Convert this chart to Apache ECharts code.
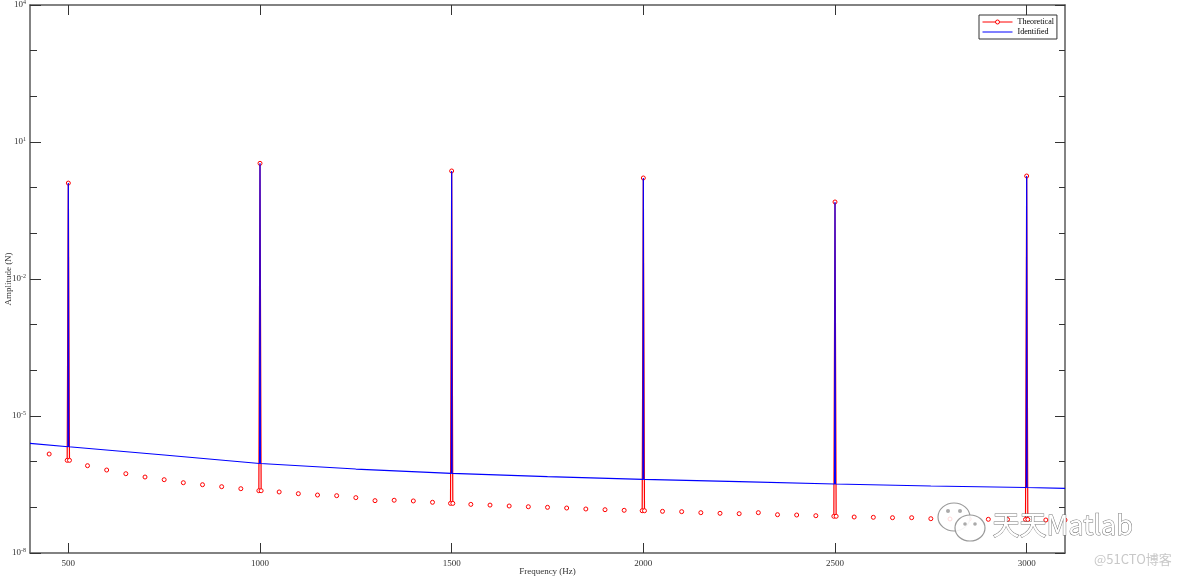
<!DOCTYPE html>
<html><head><meta charset="utf-8">
<script src="https://cdn.jsdelivr.net/npm/echarts@6/dist/echarts.min.js"></script>
<style>html,body{margin:0;padding:0;background:#fff}#c{width:1184px;height:578px}</style>
</head><body><div id="c"></div>
<script>
// ---- data ----
const xTickValues = [500, 1000, 1500, 2000, 2500, 3000];
const peakFreq = [500, 1000, 1500, 2000, 2500, 3000];
const peakAmp = [1.26, 3.41, 2.32, 1.63, 0.486, 1.8];
// theoretical floor at the peak frequencies
const theoPeakBase = [1.07e-6, 2.31e-7, 1.22e-7, 8.43e-8, 6.37e-8, 5.42e-8];
// theoretical floor samples (every 50 Hz, excluding the peaks)
const theoFreq = [450, 550, 600, 650, 700, 750, 800, 850, 900, 950,
  1050, 1100, 1150, 1200, 1250, 1300, 1350, 1400, 1450,
  1550, 1600, 1650, 1700, 1750, 1800, 1850, 1900, 1950,
  2050, 2100, 2150, 2200, 2250, 2300, 2350, 2400, 2450,
  2550, 2600, 2650, 2700, 2750, 2800, 2850, 2900, 2950,
  3050, 3100];
const theoBase = [1.47e-6, 8.17e-7, 6.56e-7, 5.45e-7, 4.61e-7, 4.03e-7, 3.46e-7, 3.13e-7, 2.83e-7, 2.56e-7,
  2.17e-7, 1.99e-7, 1.86e-7, 1.80e-7, 1.63e-7, 1.40e-7, 1.43e-7, 1.38e-7, 1.29e-7,
  1.16e-7, 1.12e-7, 1.07e-7, 1.03e-7, 1.00e-7, 9.66e-8, 9.20e-8, 8.87e-8, 8.61e-8,
  8.18e-8, 8.04e-8, 7.64e-8, 7.40e-8, 7.26e-8, 7.64e-8, 6.90e-8, 6.79e-8, 6.56e-8,
  6.14e-8, 6.05e-8, 5.93e-8, 5.93e-8, 5.64e-8, 5.56e-8, 5.56e-8, 5.47e-8, 5.42e-8,
  5.28e-8, 5.28e-8];
// identified floor curve
const identFreq = [400, 500, 750, 1000, 1250, 1500, 1750, 2000, 2250, 2500, 2750, 3000, 3100];
const identBase = [2.52e-6, 2.12e-6, 1.40e-6, 9.12e-7, 6.90e-7, 5.56e-7, 4.69e-7, 4.11e-7, 3.64e-7, 3.24e-7, 2.93e-7, 2.72e-7, 2.61e-7];

// ---- build series data ----
const theoPts = [];
theoFreq.forEach((f, i) => theoPts.push({f: f, v: theoBase[i], peak: -1}));
peakFreq.forEach((f, i) => theoPts.push({f: f, v: theoPeakBase[i], peak: i}));
theoPts.sort((a, b) => a.f - b.f);
const theoData = [];
theoPts.forEach(p => {
  if (p.peak >= 0) {
    theoData.push([p.f - 3, p.v], [p.f, peakAmp[p.peak]], [p.f + 3, p.v]);
  } else {
    theoData.push([p.f, p.v]);
  }
  theoData.push([p.f + 10, null]);
});
const identData = [];
identFreq.forEach((f, i) => {
  const k = peakFreq.indexOf(f);
  if (k >= 0) {
    identData.push([f - 1, identBase[i]], [f, peakAmp[k]], [f + 1, identBase[i]]);
  } else {
    identData.push([f, identBase[i]]);
  }
});

const serif = 'Liberation Serif, "Times New Roman", serif';
const axisCol = '#5a5a5a';
const yFmt = function (v) {
  const e = Math.round(Math.log10(v));
  if (((e % 3) + 3) % 3 !== 1) return '';
  return '{b|10}{s|' + e + '}';
};
const yRich = {
  b: {fontSize: 9, fontFamily: serif, color: '#333'},
  s: {fontSize: 6, fontFamily: serif, color: '#333', padding: [0, 0, 5, 0]}
};

const chart = echarts.init(document.getElementById('c'), null, {renderer: 'canvas'});
chart.setOption({
  animation: false,
  backgroundColor: '#fff',
  grid: {left: 30, right: 119, top: 5, bottom: 25, containLabel: false, outerBoundsMode: 'none'},
  legend: {
    data: [{name: 'Theoretical', itemStyle: {borderWidth: 1}}, {name: 'Identified', itemStyle: {opacity: 0}}],
    orient: 'vertical', left: 979, top: 15,
    padding: [3, 3, 3, 3], itemGap: 2, itemWidth: 30, itemHeight: 5,
    lineStyle: {width: 1},
    backgroundColor: '#fff', borderColor: '#333', borderWidth: 1, borderRadius: 0,
    textStyle: {fontFamily: serif, fontSize: 8, color: '#000'}
  },
  xAxis: [{
    type: 'value', min: 400, max: 3100, position: 'bottom',
    axisLine: {show: true, onZero: false, lineStyle: {color: axisCol, width: 1.5}},
    axisTick: {show: true, inside: true, length: 10, customValues: xTickValues, lineStyle: {color: '#333'}},
    axisLabel: {customValues: xTickValues, formatter: v => String(v), fontFamily: serif, fontSize: 9, color: '#333', margin: 6},
    splitLine: {show: false},
    name: 'Frequency (Hz)', nameLocation: 'middle', nameGap: 14, nameMoveOverlap: false,
    nameTextStyle: {fontFamily: serif, fontSize: 9, color: '#333'}
  }, {
    type: 'value', min: 400, max: 3100, position: 'top',
    axisLine: {show: true, onZero: false, lineStyle: {color: axisCol, width: 1.5}},
    axisTick: {show: true, inside: true, length: 10, customValues: xTickValues, lineStyle: {color: '#333'}},
    axisLabel: {show: false},
    splitLine: {show: false}
  }],
  yAxis: [{
    type: 'log', logBase: 10, min: 1e-8, max: 1e4, interval: 1, position: 'left',
    axisLine: {show: true, onZero: false, lineStyle: {color: axisCol, width: 1.5}},
    axisTick: {show: true, inside: true, length: 7, lineStyle: {color: '#333'}},
    axisLabel: {formatter: yFmt, rich: yRich, margin: 4},
    splitLine: {show: false},
    name: 'Amplitude (N)', nameLocation: 'middle', nameGap: 17, nameMoveOverlap: false,
    nameTextStyle: {fontFamily: serif, fontSize: 9, color: '#333'}
  }, {
    type: 'log', logBase: 10, min: 1e-8, max: 1e4, interval: 3, position: 'left',
    axisLine: {show: false},
    axisTick: {show: true, inside: true, length: 11, lineStyle: {color: '#333'}},
    axisLabel: {show: false},
    splitLine: {show: false}
  }, {
    type: 'log', logBase: 10, min: 1e-8, max: 1e4, interval: 1, position: 'right',
    axisLine: {show: true, onZero: false, lineStyle: {color: axisCol, width: 1.5}},
    axisTick: {show: true, inside: true, length: 6, lineStyle: {color: '#333'}},
    axisLabel: {show: false},
    splitLine: {show: false}
  }, {
    type: 'log', logBase: 10, min: 1e-8, max: 1e4, interval: 3, position: 'right',
    axisLine: {show: false},
    axisTick: {show: true, inside: true, length: 10, lineStyle: {color: '#333'}},
    axisLabel: {show: false},
    splitLine: {show: false}
  }],
  series: [{
    name: 'Theoretical', type: 'line', xAxisIndex: 0, yAxisIndex: 0,
    data: theoData, connectNulls: false,
    color: '#ff0000',
    lineStyle: {color: '#ff0000', width: 1.2},
    symbol: 'circle', symbolSize: 4, showSymbol: true, showAllSymbol: true,
    itemStyle: {color: '#fff', borderColor: '#ff0000', borderWidth: 1},
    emphasis: {disabled: true}, z: 2
  }, {
    name: 'Identified', type: 'line', xAxisIndex: 0, yAxisIndex: 0,
    data: identData,
    color: '#0000ff',
    lineStyle: {color: '#0000ff', width: 1.2},
    symbol: 'none', showSymbol: false,
    emphasis: {disabled: true}, z: 3
  }],
  graphic: [
    {type: 'ellipse', shape: {cx: 954, cy: 517, rx: 16, ry: 14}, style: {fill: 'rgba(255,255,255,0.85)', stroke: '#999', lineWidth: 1.2}, z: 100},
    {type: 'ellipse', shape: {cx: 970, cy: 528, rx: 15, ry: 13}, style: {fill: 'rgba(255,255,255,0.9)', stroke: '#999', lineWidth: 1.2}, z: 101},
    {type: 'circle', shape: {cx: 948, cy: 511, r: 2}, style: {fill: '#aaa'}, z: 102},
    {type: 'circle', shape: {cx: 960, cy: 511, r: 2}, style: {fill: '#aaa'}, z: 102},
    {type: 'circle', shape: {cx: 965, cy: 524, r: 1.8}, style: {fill: '#aaa'}, z: 102},
    {type: 'circle', shape: {cx: 975, cy: 524, r: 1.8}, style: {fill: '#aaa'}, z: 102},
    {type: 'text', left: 992, top: 511, z: 103,
      style: {text: '天天Matlab', fontFamily: '"Noto Sans CJK SC", "Noto Sans", sans-serif', fontSize: 27, fill: '#fff', stroke: '#777', lineWidth: 1}},
    {type: 'text', left: 1094, top: 553, z: 103,
      style: {text: '@51CTO博客', fontFamily: '"Noto Sans CJK SC", "Noto Sans", sans-serif', fontSize: 13, fill: '#c8c8c8'}}
  ]
});
</script>
</body></html>
